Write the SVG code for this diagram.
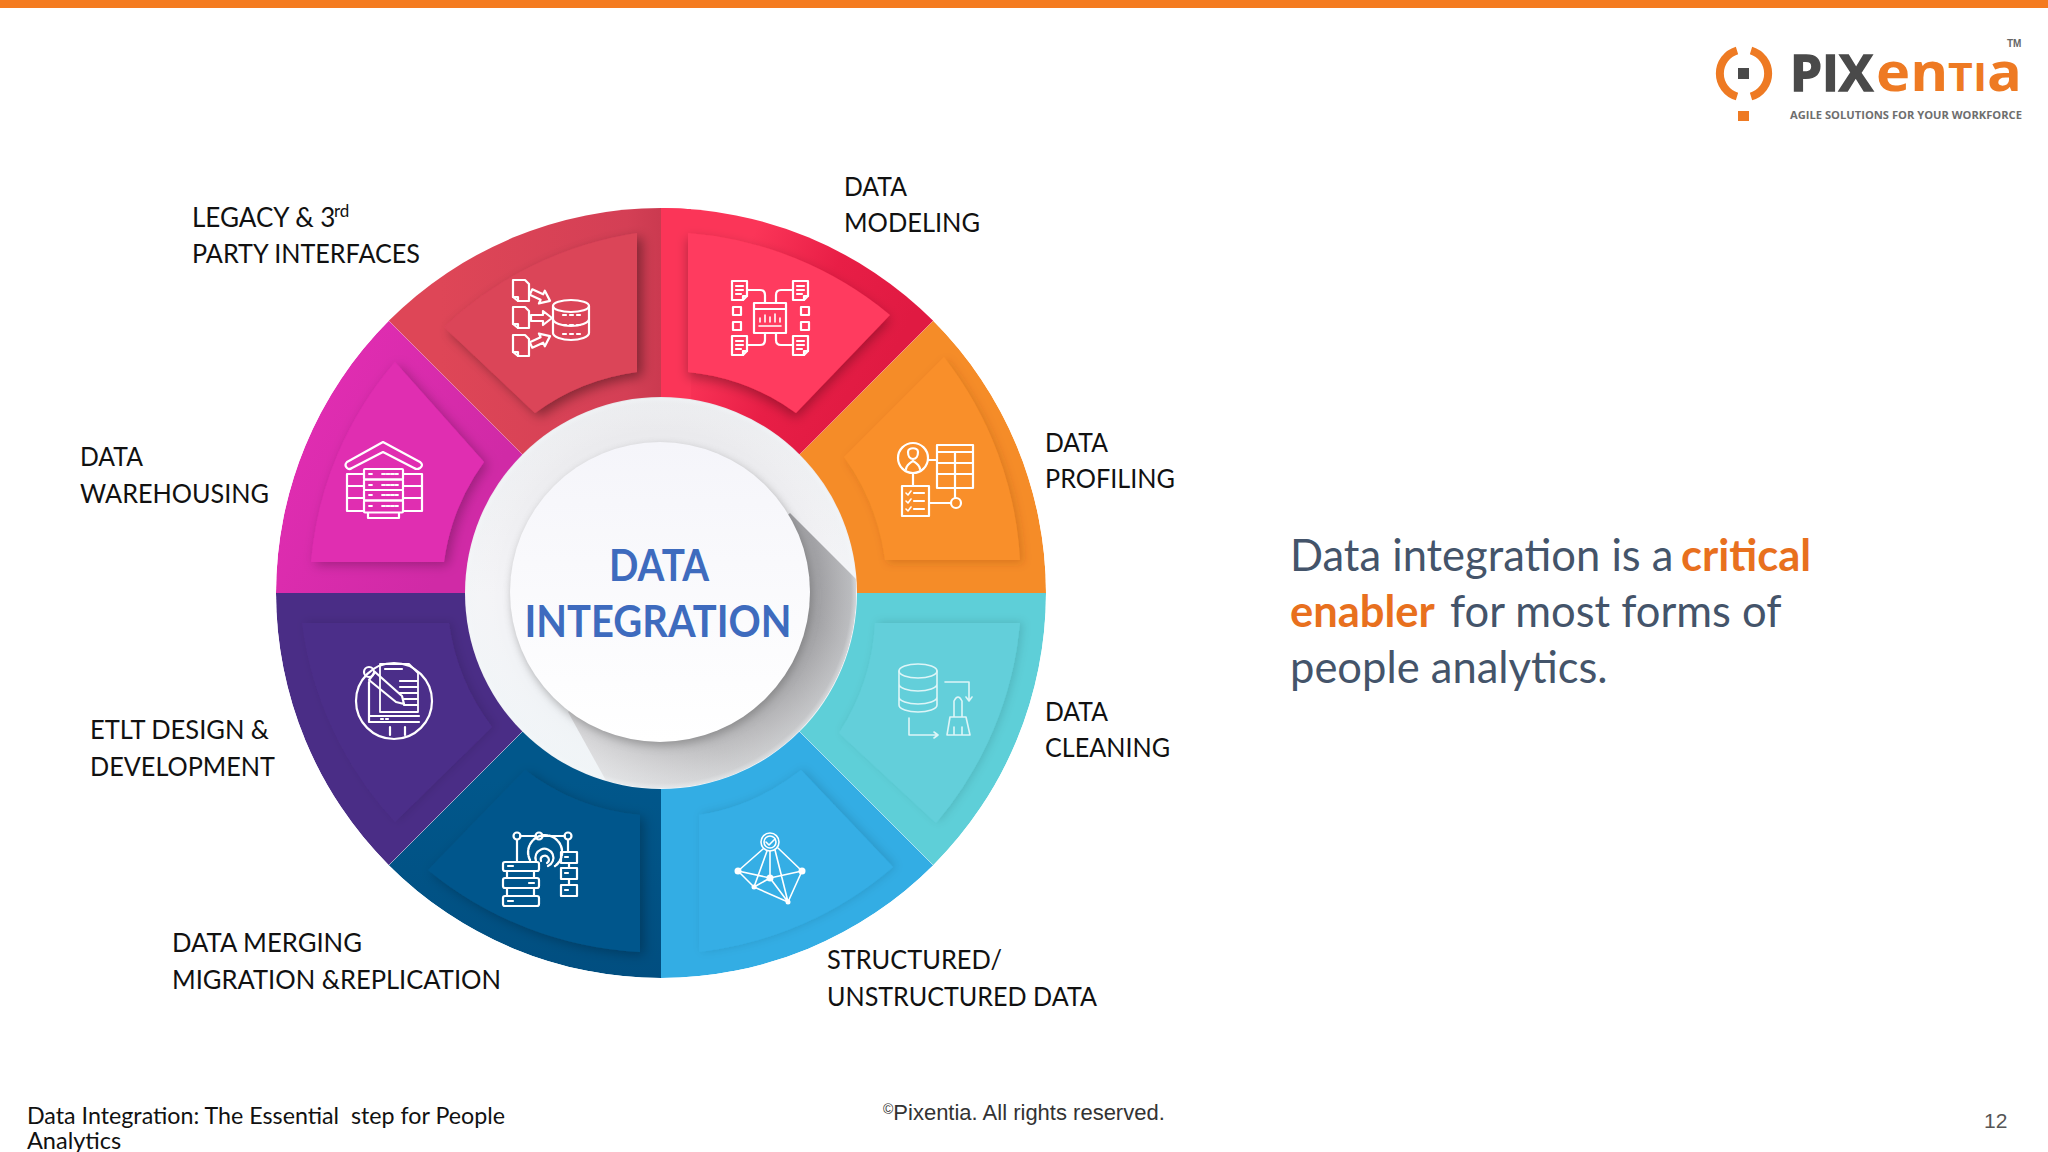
<svg xmlns="http://www.w3.org/2000/svg" width="2048" height="1152" viewBox="0 0 2048 1152">
<style>
text{font-family:"Lato","Open Sans",sans-serif}
.lb{font-size:27.5px;fill:#111}
.ic{fill:none;stroke:#fff;stroke-width:2.2;stroke-linejoin:round;stroke-linecap:round}
.ic2{fill:none;stroke:#fff;stroke-width:1.6;stroke-linecap:round;stroke-linejoin:round}
.dot{fill:#fff;stroke:none}
.ctr{font-size:43px;font-weight:700;fill:#3E6BBE;text-anchor:middle}
.para{font-size:43.5px;fill:#44546A}
.hi{font-weight:700;fill:#E8701E}
</style>
<defs>
<filter id="shS" x="-30%" y="-30%" width="160%" height="160%"><feDropShadow dx="5" dy="4" stdDeviation="6" flood-color="#000" flood-opacity=".38"/></filter>
<filter id="shB" x="-30%" y="-30%" width="160%" height="160%"><feDropShadow dx="0" dy="5" stdDeviation="6" flood-color="#000" flood-opacity=".3"/></filter>
<filter id="shM" x="-30%" y="-30%" width="160%" height="160%"><feDropShadow dx="4" dy="3" stdDeviation="6" flood-color="#000" flood-opacity=".26"/></filter>
<filter id="shL" x="-30%" y="-30%" width="160%" height="160%"><feDropShadow dx="3" dy="-1" stdDeviation="5" flood-color="#000" flood-opacity=".12"/></filter>
<filter id="shO" x="-30%" y="-30%" width="160%" height="160%"><feDropShadow dx="3" dy="3" stdDeviation="4" flood-color="#7a3a00" flood-opacity=".22"/></filter>
<filter id="blur8" x="-30%" y="-30%" width="160%" height="160%"><feGaussianBlur stdDeviation="5"/></filter>
<linearGradient id="g1" gradientUnits="userSpaceOnUse" x1="720" y1="300" x2="880" y2="380"><stop offset="0" stop-color="#FB3558"/><stop offset=".5" stop-color="#E81E46"/><stop offset="1" stop-color="#E01A42"/></linearGradient>
<linearGradient id="g8" gradientUnits="userSpaceOnUse" x1="440" y1="300" x2="660" y2="300"><stop offset="0" stop-color="#DE4657"/><stop offset=".85" stop-color="#D43F55"/><stop offset="1" stop-color="#CB3A50"/></linearGradient>
<linearGradient id="g7" gradientUnits="userSpaceOnUse" x1="300" y1="400" x2="480" y2="500"><stop offset="0" stop-color="#E12DB2"/><stop offset="1" stop-color="#D02AA6"/></linearGradient>
<linearGradient id="g5" gradientUnits="userSpaceOnUse" x1="661" y1="780" x2="661" y2="978"><stop offset="0" stop-color="#01578B"/><stop offset="1" stop-color="#014E80"/></linearGradient>
<linearGradient id="ring" x1="0" y1="0" x2="0" y2="1"><stop offset="0" stop-color="#E8E8EB"/><stop offset=".5" stop-color="#F3F3F6"/><stop offset="1" stop-color="#EEF3F6"/></linearGradient>
<linearGradient id="disc" x1="0" y1="0" x2="0" y2="1"><stop offset="0" stop-color="#F5F5FA"/><stop offset="1" stop-color="#FFFFFF"/></linearGradient>
<linearGradient id="longsh" gradientUnits="userSpaceOnUse" x1="590" y1="770" x2="840" y2="520"><stop offset="0" stop-color="#DADADC"/><stop offset=".3" stop-color="#BEBEC0"/><stop offset=".75" stop-color="#A4A4A7"/><stop offset="1" stop-color="#A0A0A4"/></linearGradient>
<radialGradient id="rim" gradientUnits="userSpaceOnUse" cx="661" cy="593" r="196"><stop offset=".82" stop-color="#fff" stop-opacity="0"/><stop offset=".97" stop-color="#F4F8FA" stop-opacity=".3"/><stop offset="1" stop-color="#F4F8FA" stop-opacity=".65"/></radialGradient>
<clipPath id="ringClip"><circle cx="661" cy="593" r="195"/></clipPath>
<clipPath id="c1"><path d="M661 593V208A385 385 0 0 1 933.2 320.8Z"/></clipPath>
<clipPath id="c2"><path d="M661 593L933.2 320.8A385 385 0 0 1 1046 593Z"/></clipPath>
<clipPath id="c3"><path d="M661 593H1046A385 385 0 0 1 933.2 865.2Z"/></clipPath>
<clipPath id="c4"><path d="M661 593L933.2 865.2A385 385 0 0 1 661 978Z"/></clipPath>
<clipPath id="c5"><path d="M661 593V978A385 385 0 0 1 388.8 865.2Z"/></clipPath>
<clipPath id="c6"><path d="M661 593L388.8 865.2A385 385 0 0 1 276 593Z"/></clipPath>
<clipPath id="c7"><path d="M661 593H276A385 385 0 0 1 388.8 320.8Z"/></clipPath>
<clipPath id="c8"><path d="M661 593L388.8 320.8A385 385 0 0 1 661 208Z"/></clipPath>
<g id="doc"><path d="M0 0H15V15L11 19H0Z"/><path d="M11 19V15H15M4 5H11M4 9H11M4 13H9"/></g>
<g id="fdoc"><path d="M0 0H12L16 4V21H5L0 17Z"/><path d="M0 17H5V21"/></g>
<path id="bar" d="M0 -3H12V-7L21 0L12 7V3H0Z"/>
</defs>
<rect width="2048" height="1152" fill="#fff"/>
<rect id="top-bar" width="2048" height="8" fill="#F47B20"/>

<g id="logo">
<path d="M1737 50.500A24 24 0 0 0 1737 96.500" fill="none" stroke="#EE7A23" stroke-width="8"/>
<path d="M1751 50.500A24 24 0 0 1 1751 96.500" fill="none" stroke="#EE7A23" stroke-width="8"/>
<rect x="1738" y="68" width="11" height="11" fill="#4A4A4A"/>
<rect x="1738" y="111" width="11" height="10" fill="#EE7A23"/>
<text x="1790" y="91" font-size="50" font-weight="700" fill="#4A4A4A" stroke="#4A4A4A" stroke-width="1.500" textLength="83" lengthAdjust="spacingAndGlyphs" style="font-family:'Open Sans',sans-serif">PIX</text>
<text x="1876" y="91" font-size="54" font-weight="700" fill="#EE7A23" textLength="146" lengthAdjust="spacingAndGlyphs" style="font-family:'Open Sans',sans-serif">e<tspan>n</tspan><tspan font-size="40">TI</tspan><tspan>a</tspan></text>
<text x="2007" y="47" font-size="10" font-weight="700" fill="#666" style="font-family:'Liberation Sans',sans-serif">TM</text>
<text x="1790" y="119" font-size="11" font-weight="700" fill="#6E6E6E" textLength="232" lengthAdjust="spacingAndGlyphs" style="font-family:'Open Sans',sans-serif">AGILE SOLUTIONS FOR YOUR WORKFORCE</text>
</g>

<g id="node-legacy">
<g clip-path="url(#c8)"><rect x="380" y="200" width="290" height="400" fill="url(#g8)"/><g filter="url(#shS)"><path d="M637 372A222 222 0 0 0 535 413L444 327A360 360 0 0 1 637 233Z" fill="#DB4459"/></g></g>
<g class="ic"><use href="#fdoc" x="513" y="280"/><use href="#fdoc" x="513" y="307"/><use href="#fdoc" x="513" y="335"/>
<use href="#bar" transform="translate(531 292) rotate(25)"/><use href="#bar" transform="translate(531 318)"/><use href="#bar" transform="translate(531 345) rotate(-25)"/>
<ellipse cx="571" cy="306" rx="18" ry="6"/><path d="M553 306V333C553 337 562 340 571 340C580 340 589 337 589 333V306M553 319C553 323 562 326 571 326C580 326 589 323 589 319"/><path d="M563 315H566M570 315H573M577 315H580M563 325H566M570 325H573M577 325H580M563 334H566M570 334H573M577 334H580"/></g>
<text class="lb" x="192" y="227" style="font-size:26px">LEGACY &amp; 3<tspan x="334" y="217" font-size="17">rd</tspan></text>
<text class="lb" x="192" y="263" textLength="228" lengthAdjust="spacingAndGlyphs">PARTY INTERFACES</text>
</g>

<g id="node-modeling">
<g clip-path="url(#c1)"><rect x="650" y="200" width="300" height="400" fill="url(#g1)"/><rect x="661" y="200" width="30" height="400" fill="#FB3558"/><g filter="url(#shB)"><path d="M688 372A222 222 0 0 1 796 413L890 315A360 360 0 0 0 688 233Z" fill="#FF3B5E"/></g></g>
<g class="ic"><use href="#doc" x="732" y="281"/><use href="#doc" x="793" y="281"/><use href="#doc" x="732" y="336"/><use href="#doc" x="793" y="336"/>
<rect x="733" y="307" width="8" height="8"/><rect x="733" y="322" width="8" height="8"/><rect x="801" y="307" width="8" height="8"/><rect x="801" y="322" width="8" height="8"/>
<rect x="754" y="303" width="32" height="30"/><path d="M754 309H786M748 290H760Q765 290 765 295V303M793 290H781Q776 290 776 295V303M748 345H760Q765 345 765 340V333M793 345H781Q776 345 776 340V333"/><path d="M759 326H781M760 322V318M765 322V315M770 322V317M775 322V314M780 322V318" stroke-width="1.600"/></g>
<text class="lb" x="844" y="196" textLength="63" lengthAdjust="spacingAndGlyphs">DATA</text>
<text class="lb" x="844" y="232" textLength="136" lengthAdjust="spacingAndGlyphs">MODELING</text>
</g>

<g id="node-profiling">
<g clip-path="url(#c2)"><path d="M661 593L933.2 320.8A385 385 0 0 1 1046 593Z" fill="#F58C28"/><g filter="url(#shO)"><path d="M885 560A224 224 0 0 0 844 457L944 357A362 362 0 0 1 1020 560Z" fill="#F98F29"/></g></g>
<g class="ic"><circle cx="913" cy="458" r="15"/><path d="M906 469C907 464 910 463 913 461C916 463 919 464 920 469M908 452C908 447 918 447 918 452C918 456 916 459 913 459C910 459 908 456 908 452Z"/>
<rect x="937" y="445" width="36" height="43"/><path d="M937 452H973M955 452V498M937 463H973M937 474H973"/><rect x="902" y="486" width="27" height="30"/><circle cx="956" cy="503" r="5"/><path d="M913 473V486M928 460H937M929 503H951M914 493H924M914 501H924M914 509H924"/><path d="M906 493L908 495L911 491M906 501L908 503L911 499M906 509L908 511L911 507" stroke-width="1.600"/></g>
<text class="lb" x="1045" y="452" textLength="63" lengthAdjust="spacingAndGlyphs">DATA</text>
<text class="lb" x="1045" y="488" textLength="130" lengthAdjust="spacingAndGlyphs">PROFILING</text>
</g>

<g id="node-cleaning">
<g clip-path="url(#c3)"><path d="M661 593H1046A385 385 0 0 1 933.2 865.2Z" fill="#5ECFD8"/><g filter="url(#shL)"><path d="M875 623A222 222 0 0 1 839 733L936 823A360 360 0 0 0 1020 623Z" fill="#63CFDA"/></g></g>
<g class="ic2" style="stroke:#DDF5F7"><ellipse cx="918" cy="671" rx="19" ry="7"/><path d="M899 671V705C899 709 908 712 918 712C928 712 937 709 937 705V671M899 684C899 688 908 691 918 691C928 691 937 688 937 684M899 697C899 701 908 704 918 704C928 704 937 701 937 697"/>
<path d="M945 682H969V700M966 697L969 701L972 697M909 718V735H937M934 732L938 735L934 738"/><path d="M954 717V701Q958 693 962 701V717M950 717H966L970 735H947Z M954 727V735M962 727V735"/></g>
<text class="lb" x="1045" y="721" textLength="63" lengthAdjust="spacingAndGlyphs">DATA</text>
<text class="lb" x="1045" y="757" textLength="125" lengthAdjust="spacingAndGlyphs">CLEANING</text>
</g>

<g id="node-structured">
<g clip-path="url(#c4)"><path d="M661 593L933.2 865.2A385 385 0 0 1 661 978Z" fill="#33ADE4"/><g filter="url(#shL)"><path d="M699 815A222 222 0 0 0 801 770L893 867A360 360 0 0 1 699 952Z" fill="#35AEE5"/></g></g>
<g class="ic2"><circle cx="770" cy="842" r="9"/><circle cx="770" cy="842" r="6"/><path d="M766 842L769 845L775 839"/><path d="M763 849L738 871M767 851L754 887M770 851V878M775 850L788 902M778 848L802 871M738 871L770 878L802 871M738 871L754 887L788 902L802 871M754 887L770 878L788 902"/></g>
<g class="dot"><circle cx="738" cy="871" r="3.500"/><circle cx="802" cy="871" r="3.500"/><circle cx="770" cy="878" r="3.500"/><circle cx="754" cy="887" r="2.500"/><circle cx="788" cy="902" r="2.500"/></g>
<text class="lb" x="827" y="969" textLength="175" lengthAdjust="spacingAndGlyphs">STRUCTURED/</text>
<text class="lb" x="827" y="1006" textLength="270" lengthAdjust="spacingAndGlyphs">UNSTRUCTURED DATA</text>
</g>

<g id="node-merging">
<g clip-path="url(#c5)"><path d="M661 593V978A385 385 0 0 1 388.8 865.2Z" fill="url(#g5)"/><g filter="url(#shM)"><path d="M640 815A222 222 0 0 1 525 770L428 870A362 362 0 0 0 640 952Z" fill="#01578C"/></g></g>
<g class="ic"><circle cx="517" cy="836" r="3.500"/><circle cx="539" cy="836" r="3.500"/><circle cx="568" cy="836" r="3.500"/><path d="M520 836H536M542 836H565M517 840V862M568 840V852M569 863V868M569 879V885"/>
<rect x="561" y="852" width="16" height="11"/><rect x="561" y="868" width="16" height="11"/><rect x="561" y="885" width="16" height="11"/>
<path d="M530 860A17 17 0 1 1 555 866" stroke-dasharray="4 1.500" stroke-width="2.400"/><path d="M536 861A9 9 0 1 1 548 866M541 861A4 4 0 1 1 547 863"/>
<rect x="503" y="862" width="36" height="9" rx="2"/><rect x="503" y="878" width="36" height="10" rx="2"/><rect x="503" y="896" width="36" height="10" rx="2"/><path d="M507 871V878M534 871V878M507 888V896M534 888V896"/><path d="M508 866H513M529 883H534M508 901H513M565 857H568M565 873H568M565 890H568"/></g>
<text class="lb" x="172" y="952" textLength="190" lengthAdjust="spacingAndGlyphs">DATA MERGING</text>
<text class="lb" x="172" y="989" textLength="329" lengthAdjust="spacingAndGlyphs">MIGRATION &amp;REPLICATION</text>
</g>

<g id="node-etlt">
<g clip-path="url(#c6)"><path d="M661 593L388.8 865.2A385 385 0 0 1 276 593Z" fill="#4A2D86"/><g filter="url(#shL)"><path d="M449 623A222 222 0 0 0 492 727L395 822A360 360 0 0 1 302 623Z" fill="#4C2E89"/></g></g>
<g class="ic"><circle cx="394" cy="701" r="38"/><path d="M380 664H409L418 673V712H380Z" stroke-width="1.800"/><path d="M385 669H402M400 681H417M400 687H417M400 693H417M404 699H417M404 705H417"/><path d="M369 680L375 672L402 696L404 704L396 702Z"/><circle cx="369" cy="672" r="5"/><path d="M369 682V716H419M369 716V722H419M381 719H383M386 719H388M390 727V735M405 727V735"/></g>
<text class="lb" x="90" y="739" textLength="179" lengthAdjust="spacingAndGlyphs">ETLT DESIGN &amp;</text>
<text class="lb" x="90" y="776" textLength="185" lengthAdjust="spacingAndGlyphs">DEVELOPMENT</text>
</g>

<g id="node-warehousing">
<g clip-path="url(#c7)"><path d="M661 593H276A385 385 0 0 1 388.8 320.8Z" fill="url(#g7)"/><g filter="url(#shM)"><path d="M444 562A220 220 0 0 1 484 462L395 362A352 352 0 0 0 311 562Z" fill="#E02DB1"/></g></g>
<g class="ic"><path d="M383 442L420 462Q424 465 420 468Q417 470 414 468L383 452L352 468Q349 470 347 468Q344 465 347 462Z"/>
<rect x="364" y="469" width="39" height="10.500" rx="1"/><rect x="364" y="479.500" width="39" height="10.500" rx="1"/><rect x="364" y="490" width="39" height="10.500" rx="1"/><rect x="364" y="500.500" width="39" height="12" rx="1"/><path d="M368 513V518H399V513"/>
<path d="M364 474H347V511H364M347 486H364M347 498H364M403 474H422V511H403M403 486H422M403 498H422"/><path d="M369 474H372M369 485H372M369 495H372M369 506H372M382 474H398M382 485H398M382 495H398M382 506H398" stroke-dasharray="3 1.500" stroke-width="1.800"/></g>
<text class="lb" x="80" y="466" textLength="63" lengthAdjust="spacingAndGlyphs">DATA</text>
<text class="lb" x="80" y="503" textLength="189" lengthAdjust="spacingAndGlyphs">WAREHOUSING</text>
</g>

<g id="node-center">
<circle cx="661" cy="593" r="196" fill="url(#ring)"/>
<g clip-path="url(#ringClip)"><path d="M790 513L900 623V860H650L568 712Z" fill="url(#longsh)"/><circle cx="661" cy="593" r="196" fill="url(#rim)"/></g>
<circle cx="662" cy="596" r="150" fill="#555" opacity=".45" filter="url(#blur8)"/>
<circle cx="660" cy="592" r="150" fill="url(#disc)"/>
<text class="ctr" x="659" y="581" textLength="100" lengthAdjust="spacingAndGlyphs">DATA</text>
<text class="ctr" x="658" y="637" textLength="267" lengthAdjust="spacingAndGlyphs">INTEGRATION</text>
</g>

<g id="statement">
<text class="para" x="1290" y="571">Data integration is a<tspan class="hi" x="1681">critical</tspan></text>
<text class="para" x="1290" y="627"><tspan class="hi">enabler</tspan><tspan x="1450">for most forms of</tspan></text>
<text class="para" x="1290" y="683">people analytics.</text>
</g>

<g id="footer">
<text x="27" y="1124" font-size="23.500" fill="#111" textLength="478" lengthAdjust="spacingAndGlyphs" xml:space="preserve">Data Integration: The Essential  step for People</text>
<text x="27" y="1149" font-size="23.500" fill="#111">Analytics</text>
<text x="883" y="1120" font-size="22" fill="#333" style="font-family:'Liberation Sans',sans-serif"><tspan font-size="14" dy="-6">©</tspan><tspan dy="6">Pixentia. All rights reserved.</tspan></text>
<text x="1984" y="1128" font-size="21" fill="#555" style="font-family:'Liberation Sans',sans-serif">12</text>
</g>
</svg>
